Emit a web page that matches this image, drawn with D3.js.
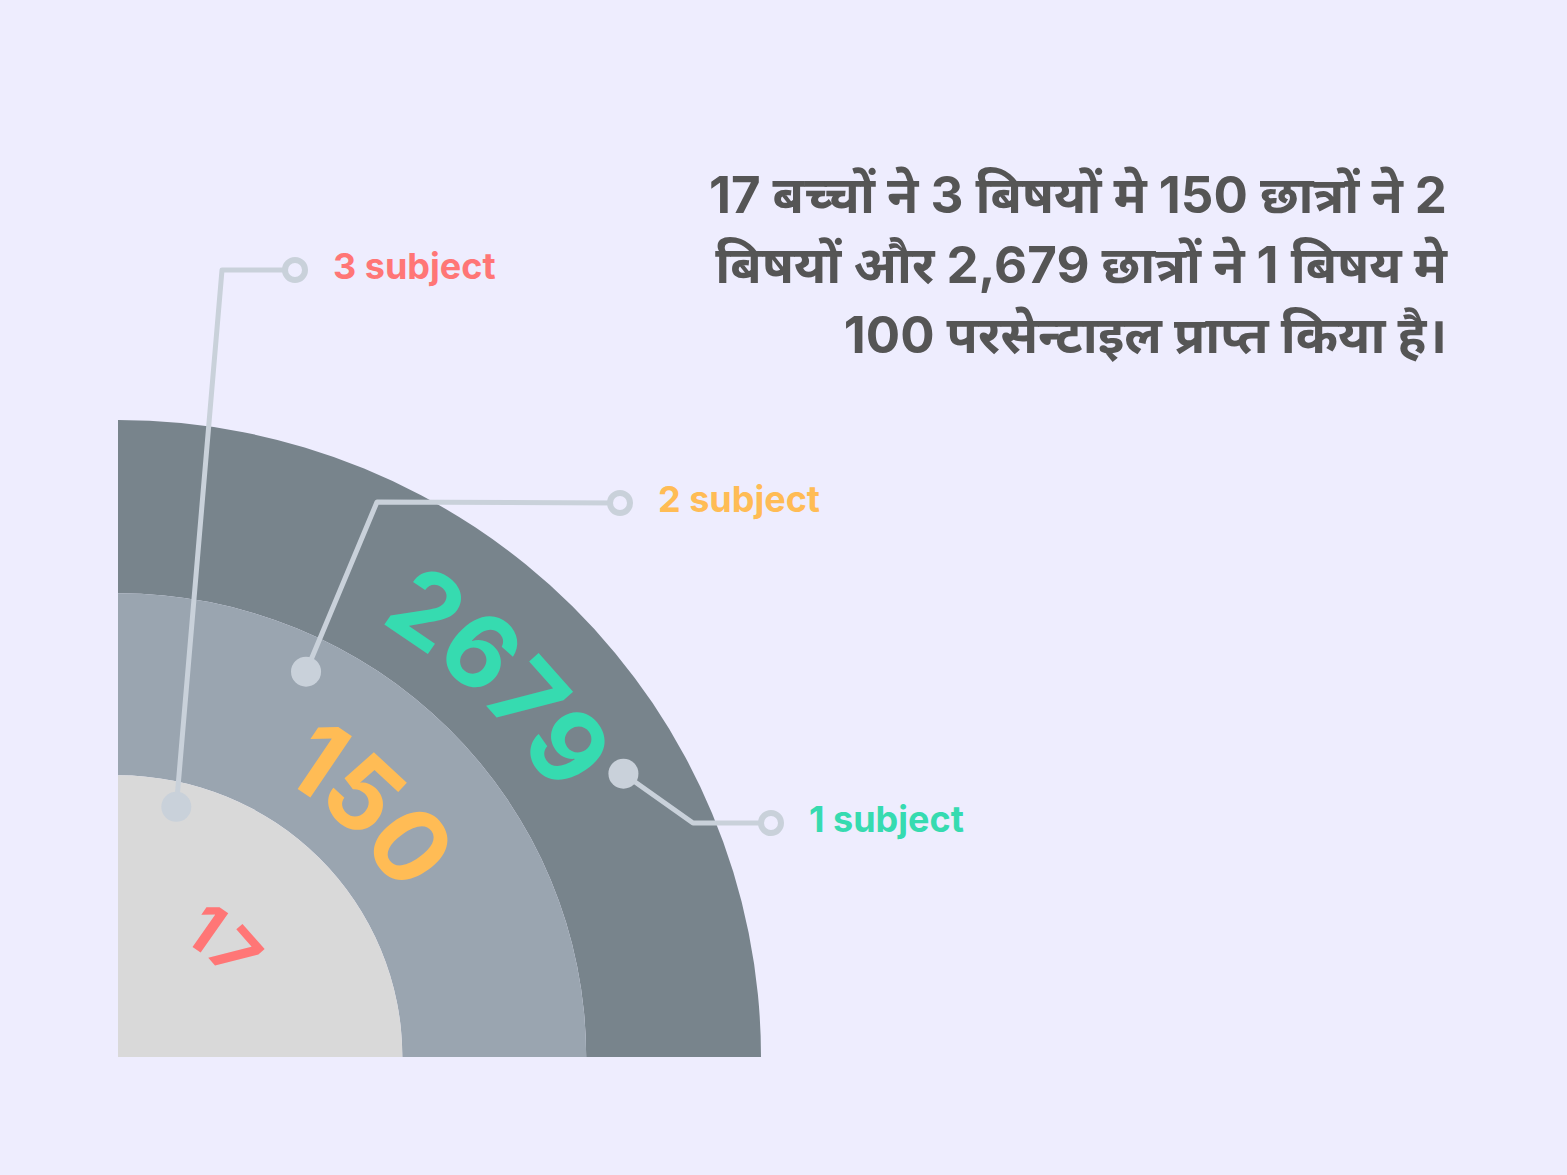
<!DOCTYPE html>
<html>
<head>
<meta charset="utf-8">
<script src="https://cdn.jsdelivr.net/npm/d3@7"></script>
<style>
  html, body { margin: 0; padding: 0; background: #eeedfe; }
  svg { display: block; }
</style>
</head>
<body>
<div id="draw"></div>
<script>
var W = 1567, H = 1175;

// data
var categories = ['3 subject', '2 subject', '1 subject'];
var values = [17, 150, 2679];
var titleLines = [
  '17 बच्चों ने 3 बिषयों मे 150 छात्रों ने 2',
  'बिषयों और 2,679 छात्रों ने 1 बिषय मे',
  '100 परसेन्टाइल प्राप्त किया है।'
];

// styles
var ringColors = ['#d9d9d9', '#9aa5b0', '#78848c'];
var labelColors = ['#ff7676', '#ffbc55', '#36dbb0'];
var lineColor = '#c9d1da';
var bg = '#eeedfe';

// layout: ring edges, value label position, callout geometry
var cx = 118, cy = 1057;
var ringEdge = d3.scaleLinear().domain([0, 1, 2, 3]).range([0, 283, 466, 640]);
var numFont = [66, 102, 102];
var numSpacing = [5, 3, 3];
var numRadius = [157, 360, 545];       // centre of the rotated number
var numShift = [-6, 0, 0];
var dotPolar = [[13, 258], [25.8, 430], [60.5, 578]]; // [deg from top, radius]
var elbow = [[222, 270], [377, 502], [693, 823]];
var tip = [[295, 270], [620, 503], [771, 823]];

var svg = d3.select('#draw').append('svg')
  .attr('width', W).attr('height', H);

svg.append('rect').attr('width', W).attr('height', H).attr('fill', bg);

var g = svg.append('g')
  .attr('transform', 'translate(' + cx + ',' + cy + ') scale(1.0047,0.9953)');

var arc = d3.arc()
  .innerRadius(function(d, i) { return ringEdge(i); })
  .outerRadius(function(d, i) { return ringEdge(i + 1); })
  .startAngle(0)
  .endAngle(Math.PI / 2);

// draw outermost first so inner rings sit on top
var idx = d3.range(values.length);
g.selectAll('path.ring')
  .data(idx.slice().reverse())
  .join('path')
  .attr('class', 'ring')
  .attr('d', function(i) { return arc(values[i], i); })
  .attr('fill', function(i) { return ringColors[i]; });

// paths for the numbers (clockwise, top -> right)
var defs = svg.append('defs');
idx.forEach(function(i) {
  var r = numRadius[i];
  defs.append('path')
    .attr('id', 'np' + i)
    .attr('d', 'M0,' + (-r) + ' A' + r + ',' + r + ' 0 0 1 ' + r + ',0');
});

g.selectAll('text.num')
  .data(idx)
  .join('text')
  .attr('class', 'num')
  .attr('font-family', 'Inter, "Open Sans", sans-serif')
  .attr('font-weight', 700)
  .attr('font-size', function(i) { return numFont[i]; })
  .attr('letter-spacing', function(i) { return numSpacing[i]; })
  .attr('fill', function(i) { return labelColors[i]; })
  .attr('dy', '0.36em')
  .attr('dx', function(i) { return numShift[i]; })
  .append('textPath')
  .attr('href', function(i) { return '#np' + i; })
  .attr('startOffset', '50%')
  .attr('text-anchor', 'middle')
  .text(function(i) { return values[i]; });

// callouts
var line = d3.line();
var co = svg.append('g');
idx.forEach(function(i) {
  var a = dotPolar[i][0] * Math.PI / 180, r = dotPolar[i][1];
  var dot = [cx + Math.sin(a) * r * 1.0047, cy - Math.cos(a) * r * 0.9953];
  co.append('path')
    .attr('d', line([dot, elbow[i], tip[i]]))
    .attr('fill', 'none')
    .attr('stroke', lineColor)
    .attr('stroke-width', 5)
    .attr('stroke-linejoin', 'round');
  co.append('circle')
    .attr('cx', dot[0]).attr('cy', dot[1]).attr('r', 15)
    .attr('fill', lineColor);
  co.append('circle')
    .attr('cx', tip[i][0]).attr('cy', tip[i][1]).attr('r', 10)
    .attr('fill', bg)
    .attr('stroke', lineColor)
    .attr('stroke-width', 6);
  co.append('text')
    .attr('x', tip[i][0] + 38)
    .attr('y', tip[i][1])
    .attr('dy', '0.24em')
    .attr('font-family', 'Inter, sans-serif')
    .attr('font-weight', 700)
    .attr('font-size', 36)
    .attr('fill', labelColors[i])
    .text(categories[i]);
});

// title
svg.append('g').selectAll('text')
  .data(titleLines)
  .join('text')
  .attr('x', 1447)
  .attr('y', function(d, i) { return 213 + i * 70; })
  .attr('text-anchor', 'end')
  .attr('font-family', 'Inter, "Noto Sans", sans-serif')
  .attr('font-weight', 700)
  .attr('font-size', 51)
  .attr('fill', '#555555')
  .text(function(d) { return d; });
</script>
</body>
</html>
